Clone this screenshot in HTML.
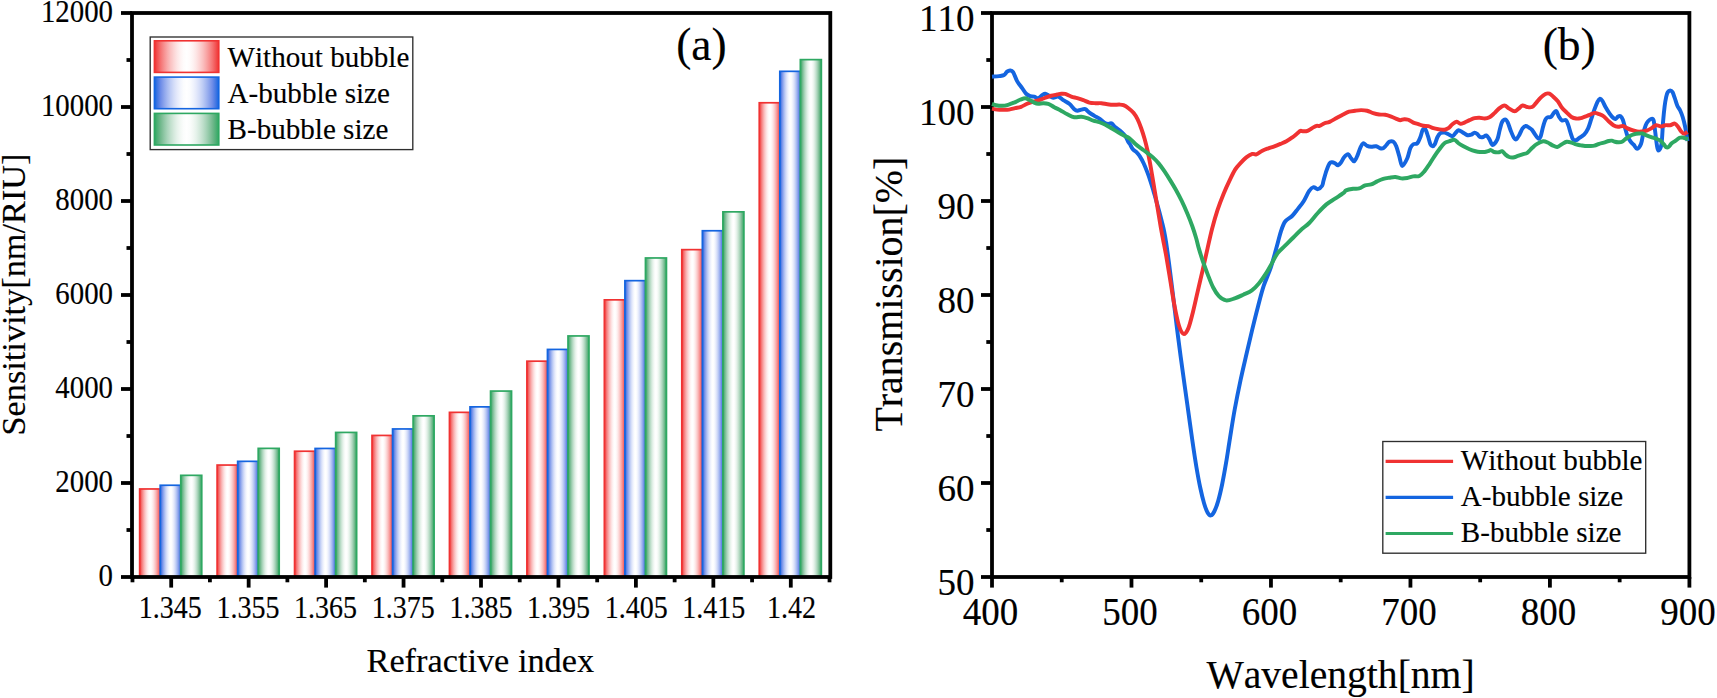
<!DOCTYPE html>
<html lang="en"><head><meta charset="utf-8"><title>Sensitivity and transmission</title>
<style>
html,body{margin:0;padding:0;background:#fff;}
body{width:1717px;height:698px;overflow:hidden;}
svg{display:block;}
text{font-family:"Liberation Serif", "Times New Roman", serif;fill:#000;font-kerning:none;stroke:#000;stroke-width:0.15px;}
</style></head><body>
<svg width="1717" height="698" viewBox="0 0 1717 698">
<defs>
<linearGradient id="gr" x1="0" y1="0" x2="1" y2="0"><stop offset="0" stop-color="#f03232"/><stop offset="0.05" stop-color="#f25454"/><stop offset="0.1" stop-color="#f57474"/><stop offset="0.15" stop-color="#f79090"/><stop offset="0.2" stop-color="#f9aaaa"/><stop offset="0.25" stop-color="#fac1c1"/><stop offset="0.3" stop-color="#fcd4d4"/><stop offset="0.35" stop-color="#fde5e5"/><stop offset="0.4" stop-color="#fef2f2"/><stop offset="0.45" stop-color="#fffbfb"/><stop offset="0.5" stop-color="#ffffff"/><stop offset="0.55" stop-color="#fffbfb"/><stop offset="0.6" stop-color="#fef2f2"/><stop offset="0.65" stop-color="#fde5e5"/><stop offset="0.7" stop-color="#fcd4d4"/><stop offset="0.75" stop-color="#fac1c1"/><stop offset="0.8" stop-color="#f9aaaa"/><stop offset="0.85" stop-color="#f79090"/><stop offset="0.9" stop-color="#f57474"/><stop offset="0.95" stop-color="#f25454"/><stop offset="1" stop-color="#f03232"/></linearGradient>
<linearGradient id="gb" x1="0" y1="0" x2="1" y2="0"><stop offset="0" stop-color="#1465e0"/><stop offset="0.05" stop-color="#4578e3"/><stop offset="0.1" stop-color="#6f8de8"/><stop offset="0.15" stop-color="#8ca4ec"/><stop offset="0.2" stop-color="#a6b9f1"/><stop offset="0.25" stop-color="#beccf5"/><stop offset="0.3" stop-color="#d3dcf8"/><stop offset="0.35" stop-color="#e4e9fb"/><stop offset="0.4" stop-color="#f1f4fd"/><stop offset="0.45" stop-color="#fbfcfe"/><stop offset="0.5" stop-color="#ffffff"/><stop offset="0.55" stop-color="#fbfcfe"/><stop offset="0.6" stop-color="#f1f4fd"/><stop offset="0.65" stop-color="#e4e9fb"/><stop offset="0.7" stop-color="#d3dcf8"/><stop offset="0.75" stop-color="#beccf5"/><stop offset="0.8" stop-color="#a6b9f1"/><stop offset="0.85" stop-color="#8ca4ec"/><stop offset="0.9" stop-color="#6f8de8"/><stop offset="0.95" stop-color="#4578e3"/><stop offset="1" stop-color="#1465e0"/></linearGradient>
<linearGradient id="gg" x1="0" y1="0" x2="1" y2="0"><stop offset="0" stop-color="#2ea862"/><stop offset="0.05" stop-color="#52b078"/><stop offset="0.1" stop-color="#73b98e"/><stop offset="0.15" stop-color="#8fc7a5"/><stop offset="0.2" stop-color="#a9d4ba"/><stop offset="0.25" stop-color="#c0dfcc"/><stop offset="0.3" stop-color="#d4e9dc"/><stop offset="0.35" stop-color="#e5f2ea"/><stop offset="0.4" stop-color="#f2f8f4"/><stop offset="0.45" stop-color="#fbfdfc"/><stop offset="0.5" stop-color="#ffffff"/><stop offset="0.55" stop-color="#fbfdfc"/><stop offset="0.6" stop-color="#f2f8f4"/><stop offset="0.65" stop-color="#e5f2ea"/><stop offset="0.7" stop-color="#d4e9dc"/><stop offset="0.75" stop-color="#c0dfcc"/><stop offset="0.8" stop-color="#a9d4ba"/><stop offset="0.85" stop-color="#8fc7a5"/><stop offset="0.9" stop-color="#73b98e"/><stop offset="0.95" stop-color="#52b078"/><stop offset="1" stop-color="#2ea862"/></linearGradient>
</defs>
<rect x="0" y="0" width="1717" height="698" fill="#fff"/>
<g id="bars">
<rect x="139.65" y="488.97" width="21" height="88.03" fill="url(#gr)" stroke="#F03232" stroke-width="1.7"/>
<rect x="160.2" y="485.26" width="21" height="91.74" fill="url(#gb)" stroke="#1465E0" stroke-width="1.7"/>
<rect x="180.75" y="475.34" width="21" height="101.66" fill="url(#gg)" stroke="#2EA862" stroke-width="1.7"/>
<rect x="217.1" y="465.05" width="21" height="111.95" fill="url(#gr)" stroke="#F03232" stroke-width="1.7"/>
<rect x="237.65" y="461.34" width="21" height="115.66" fill="url(#gb)" stroke="#1465E0" stroke-width="1.7"/>
<rect x="258.2" y="448.37" width="21" height="128.64" fill="url(#gg)" stroke="#2EA862" stroke-width="1.7"/>
<rect x="294.55" y="451.23" width="21" height="125.77" fill="url(#gr)" stroke="#F03232" stroke-width="1.7"/>
<rect x="315.1" y="448.46" width="21" height="128.54" fill="url(#gb)" stroke="#1465E0" stroke-width="1.7"/>
<rect x="335.65" y="432.43" width="21" height="144.57" fill="url(#gg)" stroke="#2EA862" stroke-width="1.7"/>
<rect x="372" y="435.44" width="21" height="141.56" fill="url(#gr)" stroke="#F03232" stroke-width="1.7"/>
<rect x="392.55" y="428.95" width="21" height="148.05" fill="url(#gb)" stroke="#1465E0" stroke-width="1.7"/>
<rect x="413.1" y="415.84" width="21" height="161.16" fill="url(#gg)" stroke="#2EA862" stroke-width="1.7"/>
<rect x="449.45" y="412.36" width="21" height="164.64" fill="url(#gr)" stroke="#F03232" stroke-width="1.7"/>
<rect x="470" y="406.86" width="21" height="170.14" fill="url(#gb)" stroke="#1465E0" stroke-width="1.7"/>
<rect x="490.55" y="391.07" width="21" height="185.93" fill="url(#gg)" stroke="#2EA862" stroke-width="1.7"/>
<rect x="526.9" y="361.18" width="21" height="215.82" fill="url(#gr)" stroke="#F03232" stroke-width="1.7"/>
<rect x="547.45" y="349.43" width="21" height="227.57" fill="url(#gb)" stroke="#1465E0" stroke-width="1.7"/>
<rect x="568" y="335.94" width="21" height="241.06" fill="url(#gg)" stroke="#2EA862" stroke-width="1.7"/>
<rect x="604.35" y="299.85" width="21" height="277.15" fill="url(#gr)" stroke="#F03232" stroke-width="1.7"/>
<rect x="624.9" y="280.67" width="21" height="296.33" fill="url(#gb)" stroke="#1465E0" stroke-width="1.7"/>
<rect x="645.45" y="257.97" width="21" height="319.03" fill="url(#gg)" stroke="#2EA862" stroke-width="1.7"/>
<rect x="681.8" y="249.65" width="21" height="327.35" fill="url(#gr)" stroke="#F03232" stroke-width="1.7"/>
<rect x="702.35" y="230.75" width="21" height="346.25" fill="url(#gb)" stroke="#1465E0" stroke-width="1.7"/>
<rect x="722.9" y="211.86" width="21" height="365.14" fill="url(#gg)" stroke="#2EA862" stroke-width="1.7"/>
<rect x="759.25" y="102.77" width="21" height="474.23" fill="url(#gr)" stroke="#F03232" stroke-width="1.7"/>
<rect x="779.8" y="71.33" width="21" height="505.67" fill="url(#gb)" stroke="#1465E0" stroke-width="1.7"/>
<rect x="800.35" y="59.63" width="21" height="517.37" fill="url(#gg)" stroke="#2EA862" stroke-width="1.7"/>
</g>
<g id="frameA" stroke="#000" stroke-width="3.8" fill="none" stroke-linecap="butt">
<rect x="132" y="13" width="698.3" height="564"/>
<line x1="121" y1="577" x2="132" y2="577"/>
<line x1="121" y1="483" x2="132" y2="483"/>
<line x1="121" y1="389" x2="132" y2="389"/>
<line x1="121" y1="295" x2="132" y2="295"/>
<line x1="121" y1="201" x2="132" y2="201"/>
<line x1="121" y1="107" x2="132" y2="107"/>
<line x1="121" y1="13" x2="132" y2="13"/>
<line x1="126.5" y1="530" x2="132" y2="530"/>
<line x1="126.5" y1="436" x2="132" y2="436"/>
<line x1="126.5" y1="342" x2="132" y2="342"/>
<line x1="126.5" y1="248" x2="132" y2="248"/>
<line x1="126.5" y1="154" x2="132" y2="154"/>
<line x1="126.5" y1="60" x2="132" y2="60"/>
<line x1="171.2" y1="577" x2="171.2" y2="587.6"/>
<line x1="248.65" y1="577" x2="248.65" y2="587.6"/>
<line x1="326.1" y1="577" x2="326.1" y2="587.6"/>
<line x1="403.55" y1="577" x2="403.55" y2="587.6"/>
<line x1="481" y1="577" x2="481" y2="587.6"/>
<line x1="558.45" y1="577" x2="558.45" y2="587.6"/>
<line x1="635.9" y1="577" x2="635.9" y2="587.6"/>
<line x1="713.35" y1="577" x2="713.35" y2="587.6"/>
<line x1="790.8" y1="577" x2="790.8" y2="587.6"/>
<line x1="132.47" y1="577" x2="132.47" y2="582.3"/>
<line x1="209.92" y1="577" x2="209.92" y2="582.3"/>
<line x1="287.38" y1="577" x2="287.38" y2="582.3"/>
<line x1="364.83" y1="577" x2="364.83" y2="582.3"/>
<line x1="442.28" y1="577" x2="442.28" y2="582.3"/>
<line x1="519.73" y1="577" x2="519.73" y2="582.3"/>
<line x1="597.18" y1="577" x2="597.18" y2="582.3"/>
<line x1="674.63" y1="577" x2="674.63" y2="582.3"/>
<line x1="752.07" y1="577" x2="752.07" y2="582.3"/>
<line x1="829.52" y1="577" x2="829.52" y2="582.3"/>
</g>
<text transform="translate(113 585.7) scale(1.03 1.11)" font-size="28" text-anchor="end">0</text>
<text transform="translate(113 491.7) scale(1.03 1.11)" font-size="28" text-anchor="end">2000</text>
<text transform="translate(113 397.7) scale(1.03 1.11)" font-size="28" text-anchor="end">4000</text>
<text transform="translate(113 303.7) scale(1.03 1.11)" font-size="28" text-anchor="end">6000</text>
<text transform="translate(113 209.7) scale(1.03 1.11)" font-size="28" text-anchor="end">8000</text>
<text transform="translate(113 115.7) scale(1.03 1.11)" font-size="28" text-anchor="end">10000</text>
<text transform="translate(113 21.7) scale(1.03 1.11)" font-size="28" text-anchor="end">12000</text>
<text transform="translate(170.3 618.4) scale(1 1.11)" font-size="28" text-anchor="middle">1.345</text>
<text transform="translate(247.95 618.4) scale(1 1.11)" font-size="28" text-anchor="middle">1.355</text>
<text transform="translate(325.6 618.4) scale(1 1.11)" font-size="28" text-anchor="middle">1.365</text>
<text transform="translate(403.25 618.4) scale(1 1.11)" font-size="28" text-anchor="middle">1.375</text>
<text transform="translate(480.9 618.4) scale(1 1.11)" font-size="28" text-anchor="middle">1.385</text>
<text transform="translate(558.55 618.4) scale(1 1.11)" font-size="28" text-anchor="middle">1.395</text>
<text transform="translate(636.2 618.4) scale(1 1.11)" font-size="28" text-anchor="middle">1.405</text>
<text transform="translate(713.85 618.4) scale(1 1.11)" font-size="28" text-anchor="middle">1.415</text>
<text transform="translate(791.5 618.4) scale(1 1.11)" font-size="28" text-anchor="middle">1.42</text>
<text transform="translate(480.3 671.6)" font-size="34.3" text-anchor="middle">Refractive index</text>
<text transform="translate(25.2 294.5) rotate(-90)" font-size="34.3" text-anchor="middle">Sensitivity[nm/RIU]</text>
<text transform="translate(701.4 60.1)" font-size="45.5" text-anchor="middle">(a)</text>
<g id="legendA">
<rect x="150.2" y="37" width="262.6" height="112.6" fill="#fff" stroke="#2e2e2e" stroke-width="1.35"/>
<rect x="154.4" y="40.8" width="64.4" height="31.6" fill="url(#gr)" stroke="#F03232" stroke-width="1.6"/>
<text transform="translate(227.6 66.6) scale(1 1.03)" font-size="29.1" text-anchor="start" stroke-width="0.4">Without bubble</text>
<rect x="154.4" y="77.1" width="64.4" height="31.6" fill="url(#gb)" stroke="#1465E0" stroke-width="1.6"/>
<text transform="translate(227.6 102.7) scale(1 1.03)" font-size="29.1" text-anchor="start" stroke-width="0.4">A-bubble size</text>
<rect x="154.4" y="113.4" width="64.4" height="31.6" fill="url(#gg)" stroke="#2EA862" stroke-width="1.6"/>
<text transform="translate(227.6 138.8) scale(1 1.03)" font-size="29.1" text-anchor="start" stroke-width="0.4">B-bubble size</text>
</g>
<g id="frameB" stroke="#000" stroke-width="3.8" fill="none">
<rect x="992" y="13" width="697.4" height="564"/>
<line x1="981" y1="577" x2="992" y2="577"/>
<line x1="981" y1="483" x2="992" y2="483"/>
<line x1="981" y1="389" x2="992" y2="389"/>
<line x1="981" y1="295" x2="992" y2="295"/>
<line x1="981" y1="201" x2="992" y2="201"/>
<line x1="981" y1="107" x2="992" y2="107"/>
<line x1="981" y1="13" x2="992" y2="13"/>
<line x1="986.3" y1="530" x2="992" y2="530"/>
<line x1="986.3" y1="436" x2="992" y2="436"/>
<line x1="986.3" y1="342" x2="992" y2="342"/>
<line x1="986.3" y1="248" x2="992" y2="248"/>
<line x1="986.3" y1="154" x2="992" y2="154"/>
<line x1="986.3" y1="60" x2="992" y2="60"/>
<line x1="992" y1="577" x2="992" y2="587.6"/>
<line x1="1131.48" y1="577" x2="1131.48" y2="587.6"/>
<line x1="1270.96" y1="577" x2="1270.96" y2="587.6"/>
<line x1="1410.44" y1="577" x2="1410.44" y2="587.6"/>
<line x1="1549.92" y1="577" x2="1549.92" y2="587.6"/>
<line x1="1689.4" y1="577" x2="1689.4" y2="587.6"/>
<line x1="1061.74" y1="577" x2="1061.74" y2="582.3"/>
<line x1="1201.22" y1="577" x2="1201.22" y2="582.3"/>
<line x1="1340.7" y1="577" x2="1340.7" y2="582.3"/>
<line x1="1480.18" y1="577" x2="1480.18" y2="582.3"/>
<line x1="1619.66" y1="577" x2="1619.66" y2="582.3"/>
</g>
<clipPath id="clipB"><rect x="990.1" y="13" width="701.2" height="564"/></clipPath>
<g id="curves" fill="none" stroke-width="3.95" stroke-linejoin="round" stroke-linecap="butt" clip-path="url(#clipB)">
<path stroke="#1465E0" d="M992.02 76.69C993.19 76.59 997.04 76.36 999.05 76.09C1001.05 75.82 1002.73 75.82 1004.06 75.09C1005.4 74.35 1006.07 72.44 1007.08 71.67C1008.08 70.9 1009.08 70.4 1010.09 70.47C1011.09 70.54 1011.92 70.3 1013.1 72.08C1014.27 73.85 1015.6 78.43 1017.11 81.11C1018.61 83.78 1020.62 86.02 1022.13 88.13C1023.63 90.24 1024.8 92.41 1026.14 93.75C1027.48 95.09 1028.82 95.69 1030.15 96.16C1031.49 96.63 1032.83 96.22 1034.17 96.56C1035.51 96.89 1036.84 98.4 1038.18 98.16C1039.52 97.93 1041.02 95.89 1042.19 95.15C1043.37 94.42 1044.03 93.65 1045.2 93.75C1046.38 93.85 1047.88 95.09 1049.22 95.76C1050.56 96.42 1051.73 97.63 1053.23 97.76C1054.74 97.9 1056.58 96.16 1058.25 96.56C1059.92 96.96 1061.43 98.97 1063.27 100.17C1065.11 101.37 1067.45 102.28 1069.29 103.78C1071.13 105.29 1072.97 108.03 1074.3 109.2C1075.64 110.37 1076.14 110.74 1077.31 110.81C1078.48 110.87 1079.99 109.87 1081.33 109.6C1082.67 109.34 1084 108.7 1085.34 109.2C1086.68 109.7 1087.85 111.51 1089.35 112.61C1090.86 113.72 1092.7 114.82 1094.37 115.82C1096.04 116.83 1097.72 117.5 1099.39 118.63C1101.06 119.77 1102.9 121.78 1104.41 122.65C1105.91 123.52 1107.25 123.75 1108.42 123.85C1109.59 123.95 1110.26 122.68 1111.43 123.25C1112.6 123.82 1113.77 125.82 1115.44 127.26C1117.12 128.7 1119.79 130.37 1121.46 131.88C1123.14 133.38 1124.31 134.55 1125.48 136.29C1126.65 138.03 1127.73 140.98 1128.49 142.31C1129.24 143.65 1129.27 143.13 1130 144.3C1130.73 145.46 1131.79 148 1132.87 149.31C1133.94 150.63 1135.25 150.95 1136.45 152.18C1137.64 153.4 1138.83 154.8 1140.03 156.65C1141.22 158.51 1142.42 160.74 1143.61 163.28C1144.8 165.82 1146.03 168.83 1147.19 171.88C1148.36 174.92 1149.52 178.26 1150.59 181.55C1151.67 184.83 1152.65 188.23 1153.64 191.58C1154.62 194.92 1155.55 198.2 1156.5 201.6C1157.46 205.01 1158.44 208.53 1159.37 211.99C1160.29 215.45 1161.25 219.11 1162.06 222.38C1162.86 225.65 1163.52 228.18 1164.2 231.62C1164.89 235.05 1165.38 237.63 1166.19 242.99C1167 248.36 1168 255.55 1169.08 263.81C1170.17 272.06 1171.45 282.51 1172.68 292.53C1173.91 302.55 1175.12 313.24 1176.44 323.91C1177.77 334.58 1179.25 346.15 1180.64 356.56C1182.03 366.98 1183.46 376.82 1184.79 386.42C1186.13 396.01 1187.37 404.89 1188.66 414.12C1189.95 423.36 1191.24 433.02 1192.53 441.83C1193.81 450.64 1195.1 459.3 1196.39 466.96C1197.68 474.62 1198.97 481.69 1200.26 487.77C1201.55 493.85 1202.89 499.27 1204.12 503.44C1205.36 507.61 1206.55 510.81 1207.67 512.8C1208.78 514.8 1209.72 515.63 1210.82 515.41C1211.92 515.19 1213.05 513.87 1214.27 511.48C1215.5 509.1 1216.84 505.59 1218.14 501.09C1219.45 496.59 1220.77 490.92 1222.11 484.48C1223.44 478.04 1224.81 470.31 1226.14 462.45C1227.48 454.59 1228.68 446.14 1230.11 437.32C1231.53 428.5 1232.97 419 1234.7 409.52C1236.44 400.03 1238.53 389.64 1240.5 380.39C1242.46 371.14 1244.54 362.47 1246.49 354.01C1248.44 345.56 1250.31 337.54 1252.22 329.66C1254.13 321.78 1256.04 314.02 1257.95 306.73C1259.86 299.45 1261.53 292.53 1263.68 285.96C1265.83 279.39 1268.7 273.78 1270.85 267.34C1272.99 260.89 1274.9 253.25 1276.58 247.28C1278.25 241.31 1279.44 235.82 1280.87 231.52C1282.31 227.22 1283.26 224.12 1285.17 221.49C1287.08 218.86 1290.19 217.91 1292.34 215.76C1294.48 213.61 1296.21 210.97 1298.07 208.6C1299.92 206.22 1301.63 204.45 1303.49 201.5C1305.35 198.55 1307.55 193.28 1309.22 190.89C1310.89 188.51 1312.09 187.45 1313.52 187.17C1314.95 186.88 1316.39 189.41 1317.82 189.17C1319.25 188.94 1321.17 187.19 1322.12 185.73C1323.08 184.28 1322.82 183 1323.56 180.44C1324.3 177.89 1325.56 173.25 1326.57 170.41C1327.57 167.57 1328.66 164.73 1329.58 163.39C1330.49 162.04 1331.13 162.33 1332.04 162.31C1332.95 162.3 1334.05 162.82 1335.05 163.32C1336.05 163.82 1337.06 165.49 1338.06 165.32C1339.06 165.16 1340.07 163.65 1341.07 162.31C1342.08 160.98 1342.91 158.63 1344.08 157.3C1345.25 155.96 1346.92 154.12 1348.1 154.29C1349.27 154.45 1350.1 157.13 1351.11 158.3C1352.11 159.47 1353.11 161.64 1354.12 161.31C1355.12 160.98 1356.12 158.47 1357.13 156.29C1358.13 154.12 1359.13 150.44 1360.14 148.27C1361.14 146.09 1361.98 143.65 1363.15 143.25C1364.32 142.85 1365.82 145.29 1367.16 145.86C1368.5 146.43 1369.67 146.59 1371.17 146.66C1372.68 146.73 1374.69 145.99 1376.19 146.26C1377.7 146.53 1379.03 147.93 1380.2 148.27C1381.38 148.6 1382.21 148.77 1383.21 148.27C1384.22 147.76 1385.22 146.33 1386.23 145.26C1387.23 144.19 1388.06 142.45 1389.24 141.84C1390.41 141.24 1392.08 140.91 1393.25 141.64C1394.42 142.38 1395.26 143.82 1396.26 146.26C1397.26 148.7 1398.27 153.02 1399.27 156.29C1400.27 159.57 1400.94 165.59 1402.28 165.93C1403.62 166.26 1405.96 161.24 1407.3 158.3C1408.63 155.36 1409.3 150.61 1410.31 148.27C1411.31 145.92 1412.15 145.09 1413.32 144.25C1414.49 143.42 1416.16 144.42 1417.33 143.25C1418.5 142.08 1419.44 139.47 1420.34 137.23C1421.24 134.99 1421.91 131.14 1422.75 129.8C1423.59 128.47 1424.49 128.13 1425.36 129.2C1426.23 130.27 1427.13 133.72 1427.97 136.23C1428.8 138.73 1429.64 142.58 1430.38 144.25C1431.11 145.92 1431.65 146.26 1432.38 146.26C1433.12 146.26 1433.95 145.76 1434.79 144.25C1435.63 142.75 1436.46 139.07 1437.4 137.23C1438.34 135.39 1439.24 133.98 1440.41 133.21C1441.58 132.45 1443.09 132.45 1444.42 132.61C1445.76 132.78 1447.1 133.62 1448.44 134.22C1449.77 134.82 1451.28 136.39 1452.45 136.23C1453.62 136.06 1454.46 134.22 1455.46 133.21C1456.46 132.21 1457.3 130.37 1458.47 130.2C1459.64 130.04 1460.98 131.38 1462.48 132.21C1463.99 133.05 1466 134.82 1467.5 135.22C1469.01 135.62 1470.34 135.05 1471.52 134.62C1472.69 134.18 1473.52 132.68 1474.53 132.61C1475.53 132.55 1476.62 133.48 1477.54 134.22C1478.45 134.95 1479.06 136.55 1480 137.01C1480.94 137.48 1482.1 137.28 1483.15 137.01C1484.2 136.75 1485.26 135.04 1486.31 135.44C1487.36 135.83 1488.41 137.8 1489.46 139.38C1490.51 140.96 1491.3 144.9 1492.61 144.9C1493.93 144.9 1496.16 141.88 1497.34 139.38C1498.53 136.88 1498.92 132.81 1499.71 129.92C1500.5 127.03 1501.16 123.79 1502.08 122.03C1502.99 120.27 1504.31 119.35 1505.23 119.35C1506.15 119.35 1506.67 120.14 1507.59 122.03C1508.51 123.93 1509.7 128.08 1510.75 130.71C1511.8 133.33 1512.98 136.36 1513.9 137.8C1514.82 139.25 1515.35 139.9 1516.27 139.38C1517.19 138.85 1518.37 136.49 1519.42 134.65C1520.47 132.81 1521.52 129.79 1522.57 128.34C1523.62 126.9 1524.68 126.11 1525.73 125.98C1526.78 125.84 1527.83 126.9 1528.88 127.55C1529.93 128.21 1530.98 128.74 1532.03 129.92C1533.09 131.1 1534.14 133.2 1535.19 134.65C1536.24 136.09 1537.42 138.33 1538.34 138.59C1539.26 138.85 1539.92 138.2 1540.71 136.23C1541.49 134.25 1542.28 129.52 1543.07 126.76C1543.86 124.01 1544.65 121.25 1545.44 119.67C1546.23 118.09 1546.88 117.75 1547.8 117.3C1548.72 116.86 1549.9 117.78 1550.96 116.99C1552.01 116.2 1553.19 113.52 1554.11 112.57C1555.03 111.63 1555.69 110.65 1556.47 111.31C1557.26 111.97 1557.92 114.99 1558.84 116.52C1559.76 118.04 1560.81 119.85 1561.99 120.46C1563.18 121.06 1564.88 119.35 1565.94 120.14C1566.99 120.93 1567.51 123.03 1568.3 125.19C1569.09 127.34 1569.88 130.71 1570.67 133.07C1571.45 135.44 1572.11 138.2 1573.03 139.38C1573.95 140.56 1575.13 140.43 1576.18 140.17C1577.24 139.9 1578.02 138.72 1579.34 137.8C1580.65 136.88 1582.6 136.23 1584.07 134.65C1585.54 133.07 1586.95 130.97 1588.15 128.34C1589.36 125.71 1590.26 122.03 1591.31 118.88C1592.36 115.73 1593.41 112.31 1594.46 109.42C1595.51 106.53 1596.69 103.32 1597.61 101.54C1598.53 99.75 1599.19 98.83 1599.98 98.7C1600.77 98.57 1601.42 99.35 1602.34 100.75C1603.26 102.14 1604.32 104.95 1605.5 107.05C1606.68 109.16 1608.13 111.52 1609.44 113.36C1610.75 115.2 1612.33 117.17 1613.38 118.09C1614.43 119.01 1614.96 119.14 1615.75 118.88C1616.54 118.62 1617.32 116.99 1618.11 116.52C1618.9 116.04 1619.69 115.52 1620.48 116.04C1621.27 116.57 1622.05 117.62 1622.84 119.67C1623.63 121.72 1624.42 125.58 1625.21 128.34C1626 131.1 1626.65 133.99 1627.57 136.23C1628.49 138.46 1629.68 140.3 1630.73 141.74C1631.78 143.19 1632.83 143.71 1633.88 144.9C1634.93 146.08 1635.85 148.97 1637.03 148.84C1638.22 148.71 1639.92 146.74 1640.98 144.11C1642.03 141.48 1642.55 136.23 1643.34 133.07C1644.13 129.92 1644.92 127.16 1645.71 125.19C1646.49 123.22 1647.15 122.3 1648.07 121.25C1648.99 120.19 1650.31 119.01 1651.23 118.88C1652.14 118.75 1652.93 118.35 1653.59 120.46C1654.25 122.56 1654.64 127.55 1655.17 131.49C1655.69 135.44 1656.22 140.96 1656.74 144.11C1657.27 147.26 1657.53 150.42 1658.32 150.42C1659.11 150.42 1660.69 148.84 1661.47 144.11C1662.26 139.38 1662.53 128.34 1663.05 122.03C1663.58 115.73 1664.1 110.47 1664.63 106.27C1665.15 102.06 1665.68 99.17 1666.2 96.81C1666.73 94.44 1667.12 93.13 1667.78 92.08C1668.44 91.02 1669.36 90.5 1670.15 90.5C1670.94 90.5 1671.72 90.76 1672.51 92.08C1673.3 93.39 1674.09 96.15 1674.88 98.38C1675.67 100.62 1676.32 103.38 1677.24 105.48C1678.16 107.58 1679.48 109.03 1680.4 111C1681.32 112.97 1681.97 114.68 1682.76 117.3C1683.55 119.93 1684.34 122.82 1685.13 126.76C1685.91 130.71 1687.1 138.59 1687.49 140.96"/>
<path stroke="#F03232" d="M992.02 108.6C992.86 108.77 995.2 109.4 997.04 109.6C998.88 109.8 1001.05 109.8 1003.06 109.8C1005.07 109.8 1007.08 109.87 1009.08 109.6C1011.09 109.34 1013.1 108.67 1015.1 108.2C1017.11 107.73 1019.12 107.53 1021.12 106.79C1023.13 106.06 1025.14 104.65 1027.14 103.78C1029.15 102.91 1031.16 102.18 1033.16 101.58C1035.17 100.97 1037.18 100.81 1039.18 100.17C1041.19 99.54 1043.2 98.5 1045.2 97.76C1047.21 97.03 1049.22 96.29 1051.23 95.76C1053.23 95.22 1055.57 94.89 1057.25 94.55C1058.92 94.22 1059.92 93.85 1061.26 93.75C1062.6 93.65 1063.6 93.48 1065.27 93.95C1066.95 94.42 1069.29 95.86 1071.29 96.56C1073.3 97.26 1075.31 97.56 1077.31 98.16C1079.32 98.77 1081.33 99.43 1083.33 100.17C1085.34 100.91 1087.35 102.08 1089.35 102.58C1091.36 103.08 1093.37 103.08 1095.38 103.18C1097.38 103.28 1099.39 103.01 1101.4 103.18C1103.4 103.35 1105.41 103.92 1107.42 104.18C1109.42 104.45 1111.43 104.72 1113.44 104.79C1115.44 104.85 1117.78 104.52 1119.46 104.59C1121.13 104.65 1121.97 104.59 1123.47 105.19C1124.98 105.79 1126.82 106.93 1128.49 108.2C1130.16 109.47 1132 110.97 1133.5 112.81C1135.01 114.65 1136.22 116.62 1137.52 119.24C1138.81 121.85 1140.1 125.21 1141.28 128.52C1142.47 131.82 1143.58 135.33 1144.63 139.08C1145.69 142.84 1146.7 147 1147.6 151.04C1148.51 155.07 1149.29 159.15 1150.06 163.28C1150.82 167.41 1151.49 171.58 1152.21 175.82C1152.92 180.05 1153.64 184.41 1154.36 188.71C1155.07 193.01 1155.79 197.31 1156.5 201.6C1157.22 205.9 1157.94 210.21 1158.65 214.5C1159.37 218.78 1160.05 223.11 1160.8 227.32C1161.55 231.53 1162.24 235 1163.14 239.77C1164.05 244.53 1165.05 249.28 1166.22 255.92C1167.39 262.57 1168.8 271.37 1170.17 279.64C1171.55 287.92 1173.02 297.93 1174.47 305.57C1175.93 313.22 1177.4 320.77 1178.92 325.5C1180.43 330.23 1182.01 333.48 1183.58 333.96C1185.14 334.43 1186.74 332.02 1188.31 328.35C1189.87 324.68 1191.39 318.14 1192.96 311.94C1194.54 305.73 1196.13 298.15 1197.77 291.1C1199.4 284.04 1201.17 276.64 1202.78 269.59C1204.4 262.54 1205.89 255.62 1207.44 248.81C1209 242 1210.43 235.19 1212.1 228.74C1213.77 222.29 1215.57 215.9 1217.48 210.1C1219.38 204.3 1221.49 198.94 1223.53 193.94C1225.58 188.95 1227.78 184.24 1229.74 180.15C1231.69 176.06 1233.5 172.2 1235.26 169.41C1237.01 166.61 1238.43 165.39 1240.27 163.39C1242.11 161.38 1244.29 158.94 1246.29 157.37C1248.3 155.79 1250.64 154.46 1252.31 153.95C1253.99 153.45 1254.66 154.89 1256.33 154.35C1258 153.82 1260.34 151.75 1262.35 150.74C1264.35 149.74 1266.36 149.07 1268.37 148.33C1270.38 147.6 1272.38 147.06 1274.39 146.33C1276.4 145.59 1278.4 144.76 1280.41 143.92C1282.42 143.08 1284.42 142.41 1286.43 141.31C1288.44 140.21 1290.61 138.63 1292.45 137.3C1294.29 135.96 1296.13 134.35 1297.47 133.28C1298.81 132.21 1299.47 131.21 1300.48 130.87C1301.48 130.54 1302.32 131.28 1303.49 131.28C1304.66 131.28 1306 131.44 1307.5 130.87C1309.01 130.31 1311.01 128.7 1312.52 127.86C1314.02 127.03 1315.36 126.19 1316.53 125.86C1317.7 125.52 1318.2 126.29 1319.54 125.86C1320.88 125.42 1322.89 123.92 1324.56 123.25C1326.23 122.58 1327.49 122.76 1329.58 121.84C1331.66 120.93 1334.81 118.98 1337.06 117.76C1339.31 116.55 1341.07 115.55 1343.08 114.55C1345.09 113.55 1347.09 112.38 1349.1 111.74C1351.11 111.11 1353.11 111.01 1355.12 110.74C1357.13 110.47 1359.13 110.14 1361.14 110.14C1363.15 110.14 1365.15 110.24 1367.16 110.74C1369.17 111.24 1371.17 112.51 1373.18 113.15C1375.19 113.78 1377.19 114.28 1379.2 114.55C1381.21 114.82 1383.21 114.42 1385.22 114.75C1387.23 115.09 1389.24 115.82 1391.24 116.56C1393.25 117.29 1395.76 118.57 1397.26 119.17C1398.77 119.77 1399.1 120.17 1400.27 120.17C1401.44 120.17 1402.95 119.23 1404.29 119.17C1405.62 119.1 1406.8 119.2 1408.3 119.77C1409.81 120.34 1411.64 121.84 1413.32 122.58C1414.99 123.31 1416.66 123.65 1418.33 124.18C1420.01 124.72 1421.68 125.46 1423.35 125.79C1425.02 126.12 1426.7 125.79 1428.37 126.19C1430.04 126.59 1431.71 127.7 1433.39 128.2C1435.06 128.7 1436.56 128.93 1438.4 129.2C1440.24 129.47 1442.75 129.97 1444.42 129.8C1446.1 129.64 1447.1 129.13 1448.44 128.2C1449.77 127.26 1451.11 125.25 1452.45 124.18C1453.79 123.11 1455.13 121.84 1456.46 121.78C1457.8 121.71 1459.14 123.65 1460.48 123.78C1461.82 123.92 1462.99 123.18 1464.49 122.58C1466 121.98 1467.84 120.91 1469.51 120.17C1471.18 119.43 1472.85 118.57 1474.53 118.16C1476.2 117.76 1477.84 117.7 1479.54 117.76C1481.24 117.83 1483.08 118.64 1484.73 118.57C1486.38 118.49 1487.88 118.17 1489.46 117.3C1491.04 116.44 1492.61 114.81 1494.19 113.36C1495.77 111.92 1497.21 109.95 1498.92 108.63C1500.63 107.32 1502.73 105.48 1504.44 105.48C1506.15 105.48 1507.46 107.66 1509.17 108.63C1510.88 109.6 1513.11 111.31 1514.69 111.31C1516.27 111.31 1517.32 109.6 1518.63 108.63C1519.95 107.66 1521.13 105.74 1522.57 105.48C1524.02 105.21 1525.73 106.79 1527.3 107.05C1528.88 107.32 1530.59 107.71 1532.03 107.05C1533.48 106.4 1534.53 104.69 1535.98 103.11C1537.42 101.54 1539.13 99.12 1540.71 97.59C1542.28 96.07 1543.99 94.62 1545.44 93.97C1546.88 93.31 1548.06 93.18 1549.38 93.65C1550.69 94.12 1551.88 95.49 1553.32 96.81C1554.77 98.12 1556.61 99.7 1558.05 101.54C1559.5 103.38 1560.55 106 1561.99 107.84C1563.44 109.68 1565.15 111.05 1566.72 112.57C1568.3 114.1 1569.88 115.99 1571.45 116.99C1573.03 117.99 1574.61 118.38 1576.18 118.57C1577.76 118.75 1579.45 118.43 1580.91 118.09C1582.38 117.75 1583.53 117.04 1585 116.52C1586.47 115.99 1588.15 115.54 1589.73 114.94C1591.31 114.33 1592.88 113.02 1594.46 112.89C1596.04 112.76 1597.61 113.55 1599.19 114.15C1600.77 114.75 1602.34 115.33 1603.92 116.52C1605.5 117.7 1607.08 119.8 1608.65 121.25C1610.23 122.69 1611.81 124.27 1613.38 125.19C1614.96 126.11 1616.54 126.63 1618.11 126.76C1619.69 126.9 1621.27 125.71 1622.84 125.98C1624.42 126.24 1626 127.63 1627.57 128.34C1629.15 129.05 1630.73 129.71 1632.3 130.23C1633.88 130.76 1635.46 131.28 1637.03 131.49C1638.61 131.71 1640.19 131.63 1641.76 131.49C1643.34 131.36 1644.92 131.23 1646.49 130.71C1648.07 130.18 1649.65 129.26 1651.23 128.34C1652.8 127.42 1654.38 125.5 1655.96 125.19C1657.53 124.87 1659.11 126.45 1660.69 126.45C1662.26 126.45 1663.84 125.4 1665.42 125.19C1666.99 124.98 1668.57 125.45 1670.15 125.19C1671.72 124.92 1673.56 123.35 1674.88 123.61C1676.19 123.87 1676.98 125.45 1678.03 126.76C1679.08 128.08 1680.13 130.31 1681.18 131.49C1682.24 132.68 1683.29 133.81 1684.34 133.86C1685.39 133.91 1686.97 132.15 1687.49 131.81"/>
<path stroke="#2EA862" d="M992.02 103.78C992.69 104.02 994.37 104.85 996.04 105.19C997.71 105.52 1000.05 105.86 1002.06 105.79C1004.06 105.72 1006.07 105.32 1008.08 104.79C1010.09 104.25 1012.09 103.41 1014.1 102.58C1016.11 101.74 1018.28 100.51 1020.12 99.77C1021.96 99.03 1023.63 98.16 1025.14 98.16C1026.64 98.16 1027.64 99.03 1029.15 99.77C1030.66 100.51 1032.66 101.91 1034.17 102.58C1035.67 103.25 1036.68 103.68 1038.18 103.78C1039.69 103.88 1041.53 103.18 1043.2 103.18C1044.87 103.18 1046.38 103.11 1048.21 103.78C1050.05 104.45 1052.23 106.12 1054.24 107.19C1056.24 108.26 1058.08 109.03 1060.26 110.2C1062.43 111.38 1064.94 113.05 1067.28 114.22C1069.62 115.39 1071.96 116.79 1074.3 117.23C1076.64 117.66 1079.15 116.66 1081.33 116.83C1083.5 116.99 1085.34 117.6 1087.35 118.23C1089.35 118.87 1091.36 119.97 1093.37 120.64C1095.38 121.31 1097.38 121.58 1099.39 122.25C1101.4 122.91 1103.4 123.65 1105.41 124.65C1107.42 125.66 1109.42 127.06 1111.43 128.27C1113.44 129.47 1115.44 130.71 1117.45 131.88C1119.46 133.05 1121.46 134.22 1123.47 135.29C1125.48 136.36 1127.45 136.8 1129.49 138.3C1131.53 139.8 1133.74 142.58 1135.73 144.3C1137.73 146.01 1139.55 147.18 1141.46 148.6C1143.37 150.02 1145.28 151.35 1147.19 152.82C1149.1 154.29 1151.01 155.65 1152.92 157.41C1154.83 159.17 1156.74 161.1 1158.65 163.39C1160.56 165.68 1162.47 168.37 1164.38 171.16C1166.29 173.95 1168.2 177.01 1170.11 180.11C1172.02 183.22 1173.94 186.35 1175.85 189.79C1177.76 193.22 1179.7 196.83 1181.58 200.71C1183.46 204.59 1185.34 208.81 1187.13 213.07C1188.92 217.32 1190.83 222.09 1192.32 226.25C1193.82 230.4 1195.02 234.28 1196.1 237.98C1197.18 241.67 1197.71 244.56 1198.82 248.4C1199.94 252.23 1201.29 256.62 1202.78 260.99C1204.28 265.36 1206.07 270.19 1207.8 274.61C1209.53 279.03 1211.33 283.93 1213.18 287.51C1215.03 291.1 1216.76 293.96 1218.91 296.11C1221.06 298.26 1223.45 300.03 1226.08 300.41C1228.71 300.8 1231.81 299.36 1234.68 298.41C1237.55 297.45 1240.41 296.02 1243.28 294.68C1246.15 293.34 1249.25 292.29 1251.88 290.38C1254.51 288.47 1256.66 286.08 1259.05 283.21C1261.44 280.34 1264.07 276.52 1266.22 273.18C1268.37 269.83 1270.04 266.49 1271.95 263.14C1273.86 259.8 1275.53 255.97 1277.68 253.11C1279.83 250.24 1282.46 248.33 1284.85 245.94C1287.24 243.55 1289.39 241.4 1292.02 238.77C1294.65 236.14 1297.75 232.8 1300.62 230.17C1303.49 227.54 1306.35 225.87 1309.22 223C1312.09 220.14 1314.95 216.08 1317.82 212.97C1320.69 209.86 1323.56 206.76 1326.42 204.37C1329.29 201.98 1332.16 200.55 1335.02 198.64C1337.89 196.72 1341.78 194.27 1343.62 192.9C1345.47 191.53 1344.51 191.09 1346.09 190.41C1347.67 189.73 1350.94 189.14 1353.11 188.8C1355.29 188.47 1357.13 188.97 1359.13 188.4C1361.14 187.83 1363.15 186.06 1365.15 185.39C1367.16 184.72 1369.17 185.06 1371.17 184.39C1373.18 183.72 1375.19 182.28 1377.19 181.38C1379.2 180.48 1381.21 179.57 1383.21 178.97C1385.22 178.37 1387.23 178.1 1389.24 177.77C1391.24 177.43 1393.25 176.86 1395.26 176.96C1397.26 177.06 1399.27 178.2 1401.28 178.37C1403.28 178.54 1405.29 178.3 1407.3 177.97C1409.3 177.63 1411.31 176.7 1413.32 176.36C1415.32 176.03 1417.5 176.8 1419.34 175.96C1421.18 175.12 1422.68 173.28 1424.35 171.34C1426.03 169.4 1427.7 166.83 1429.37 164.32C1431.04 161.81 1432.72 158.8 1434.39 156.29C1436.06 153.78 1437.73 151.44 1439.41 149.27C1441.08 147.1 1442.75 144.59 1444.42 143.25C1446.1 141.91 1447.77 141.81 1449.44 141.24C1451.11 140.67 1452.95 139.5 1454.46 139.84C1455.96 140.17 1456.97 142.18 1458.47 143.25C1459.98 144.32 1461.65 145.26 1463.49 146.26C1465.33 147.26 1467.5 148.43 1469.51 149.27C1471.52 150.11 1473.78 150.82 1475.53 151.28C1477.28 151.73 1478.47 151.87 1480 151.99C1481.53 152.11 1483.42 152.12 1484.73 151.99C1486.04 151.86 1486.83 151.52 1487.88 151.2C1488.94 150.89 1489.99 149.97 1491.04 150.1C1492.09 150.23 1492.88 151.63 1494.19 151.99C1495.51 152.36 1497.61 152.44 1498.92 152.31C1500.24 152.18 1501.02 150.86 1502.08 151.2C1503.13 151.55 1504.05 153.39 1505.23 154.36C1506.41 155.33 1507.86 156.51 1509.17 157.04C1510.48 157.56 1511.67 157.7 1513.11 157.51C1514.56 157.33 1516.27 156.46 1517.84 155.94C1519.42 155.41 1521 154.88 1522.57 154.36C1524.15 153.83 1525.73 153.83 1527.3 152.78C1528.88 151.73 1530.46 149.5 1532.03 148.05C1533.61 146.61 1534.92 145.24 1536.76 144.11C1538.6 142.98 1541.23 141.53 1543.07 141.27C1544.91 141.01 1546.23 141.85 1547.8 142.53C1549.38 143.22 1550.96 144.63 1552.53 145.37C1554.11 146.11 1555.69 147.16 1557.26 146.95C1558.84 146.74 1560.42 144.98 1561.99 144.11C1563.57 143.24 1565.15 142.01 1566.72 141.74C1568.3 141.48 1569.88 142.09 1571.45 142.53C1573.03 142.98 1574.61 143.95 1576.18 144.42C1577.76 144.9 1579.45 145.11 1580.91 145.37C1582.38 145.63 1583.53 145.9 1585 146C1586.47 146.11 1588.15 146.05 1589.73 146C1591.31 145.95 1592.88 146.05 1594.46 145.69C1596.04 145.32 1597.61 144.32 1599.19 143.79C1600.77 143.27 1602.34 143.01 1603.92 142.53C1605.5 142.06 1607.34 141.27 1608.65 140.96C1609.97 140.64 1610.75 140.51 1611.81 140.64C1612.86 140.77 1613.91 141.48 1614.96 141.74C1616.01 142.01 1616.93 142.22 1618.11 142.22C1619.3 142.22 1620.74 142.35 1622.05 141.74C1623.37 141.14 1624.68 139.56 1626 138.59C1627.31 137.62 1628.62 136.62 1629.94 135.91C1631.25 135.2 1632.44 134.73 1633.88 134.33C1635.33 133.94 1637.17 133.68 1638.61 133.54C1640.06 133.41 1641.24 133.23 1642.55 133.54C1643.87 133.86 1645.05 134.86 1646.49 135.44C1647.94 136.01 1649.65 136.49 1651.23 137.01C1652.8 137.54 1654.38 137.93 1655.96 138.59C1657.53 139.25 1659.37 139.98 1660.69 140.96C1662 141.93 1662.92 143.37 1663.84 144.42C1664.76 145.48 1665.42 146.84 1666.2 147.26C1666.99 147.68 1667.65 147.6 1668.57 146.95C1669.49 146.29 1670.54 144.37 1671.72 143.32C1672.91 142.27 1674.35 141.56 1675.67 140.64C1676.98 139.72 1678.42 138.33 1679.61 137.8C1680.79 137.28 1681.71 137.36 1682.76 137.49C1683.81 137.62 1684.99 138.33 1685.91 138.59C1686.83 138.85 1687.89 138.98 1688.28 139.06"/>
</g>
<text transform="translate(974.4 594.8) scale(1 1.02)" font-size="37" text-anchor="end">50</text>
<text transform="translate(974.4 500.8) scale(1 1.02)" font-size="37" text-anchor="end">60</text>
<text transform="translate(974.4 406.8) scale(1 1.02)" font-size="37" text-anchor="end">70</text>
<text transform="translate(974.4 312.8) scale(1 1.02)" font-size="37" text-anchor="end">80</text>
<text transform="translate(974.4 218.8) scale(1 1.02)" font-size="37" text-anchor="end">90</text>
<text transform="translate(974.4 124.8) scale(1 1.02)" font-size="37" text-anchor="end">100</text>
<text transform="translate(974.4 30.8) scale(1 1.02)" font-size="37" text-anchor="end">110</text>
<text transform="translate(990.5 624.8) scale(1 1.06)" font-size="37" text-anchor="middle">400</text>
<text transform="translate(1129.98 624.8) scale(1 1.06)" font-size="37" text-anchor="middle">500</text>
<text transform="translate(1269.46 624.8) scale(1 1.06)" font-size="37" text-anchor="middle">600</text>
<text transform="translate(1408.94 624.8) scale(1 1.06)" font-size="37" text-anchor="middle">700</text>
<text transform="translate(1548.42 624.8) scale(1 1.06)" font-size="37" text-anchor="middle">800</text>
<text transform="translate(1687.9 624.8) scale(1 1.06)" font-size="37" text-anchor="middle">900</text>
<text transform="translate(1340.5 687.8) scale(1 1.03)" font-size="39.6" text-anchor="middle">Wavelength[nm]</text>
<text transform="translate(901.5 294.2) rotate(-90)" font-size="39.9" text-anchor="middle">Transmission[%]</text>
<text transform="translate(1569.2 59.6)" font-size="45.5" text-anchor="middle">(b)</text>
<g id="legendB">
<rect x="1382.8" y="441.5" width="262.9" height="111.7" fill="#fff" stroke="#2e2e2e" stroke-width="1.35"/>
<line x1="1385.6" y1="461.3" x2="1453.1" y2="461.3" stroke="#F03232" stroke-width="3.2"/>
<text transform="translate(1460.8 470.2) scale(1 1.03)" font-size="29.1" text-anchor="start" stroke-width="0.4">Without bubble</text>
<line x1="1385.6" y1="497.4" x2="1453.1" y2="497.4" stroke="#1465E0" stroke-width="3.2"/>
<text transform="translate(1460.8 506.25) scale(1 1.03)" font-size="29.1" text-anchor="start" stroke-width="0.4">A-bubble size</text>
<line x1="1385.6" y1="533.5" x2="1453.1" y2="533.5" stroke="#2EA862" stroke-width="3.2"/>
<text transform="translate(1460.8 542.3) scale(1 1.03)" font-size="29.1" text-anchor="start" stroke-width="0.4">B-bubble size</text>
</g>
</svg>
</body></html>
